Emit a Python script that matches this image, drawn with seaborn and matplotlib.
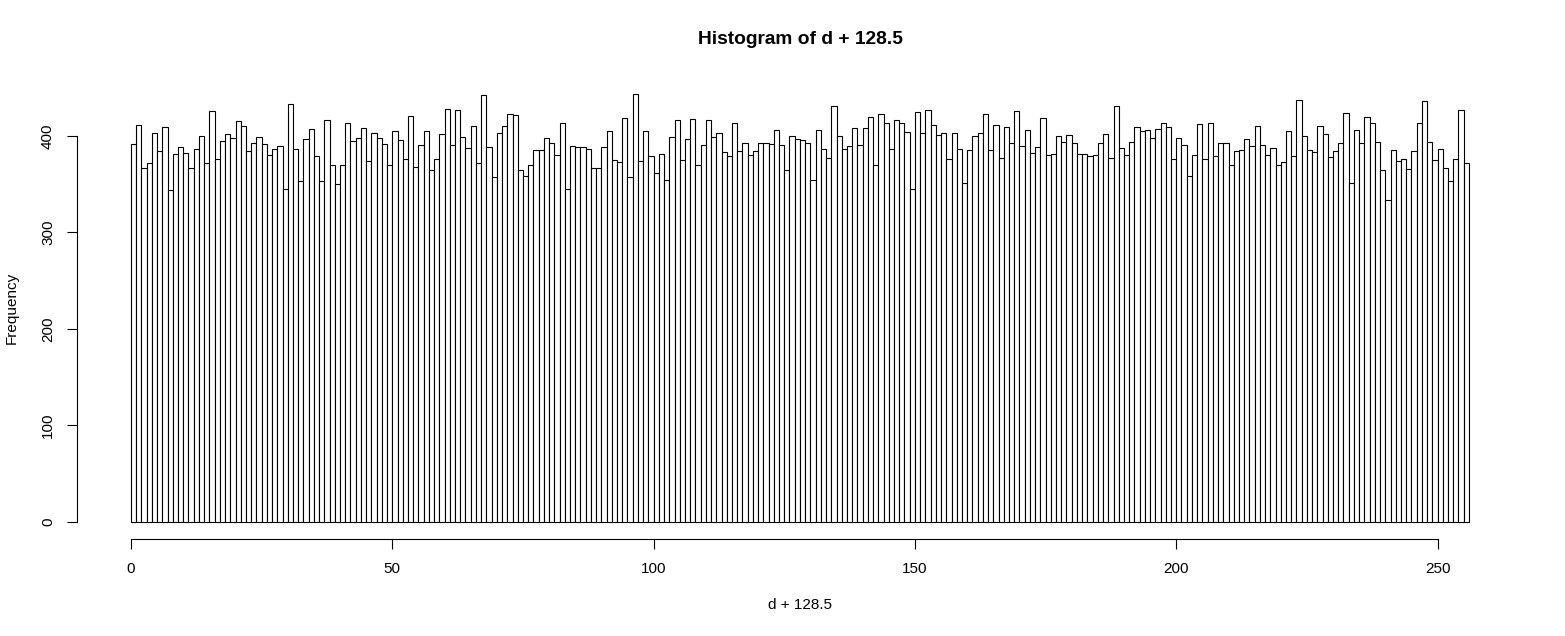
import numpy as np
import pandas as pd
import matplotlib
matplotlib.use("Agg")
import matplotlib.pyplot as plt
import seaborn as sns

# bin counts of d + 128.5, one per unit bin from 0 to 256
counts = [
    392, 411, 367, 372, 403, 384, 409, 344, 381, 389,
    382, 367, 386, 400, 372, 426, 376, 395, 402, 398,
    415, 410, 384, 393, 399, 392, 380, 387, 390, 345,
    433, 386, 353, 397, 407, 379, 353, 417, 370, 350,
    370, 413, 395, 398, 408, 374, 403, 398, 392, 370,
    405, 396, 376, 421, 368, 391, 405, 365, 376, 402,
    428, 391, 427, 399, 388, 410, 372, 442, 389, 357,
    403, 410, 423, 422, 365, 358, 370, 385, 385, 398,
    393, 380, 413, 345, 390, 389, 389, 387, 367, 367,
    389, 405, 375, 373, 419, 357, 444, 374, 405, 379,
    362, 381, 354, 399, 417, 375, 397, 418, 370, 391,
    417, 399, 403, 383, 379, 413, 384, 393, 380, 384,
    393, 393, 392, 406, 391, 365, 400, 397, 396, 393,
    354, 406, 386, 377, 431, 400, 387, 390, 408, 391,
    408, 420, 370, 423, 413, 386, 417, 413, 404, 345,
    425, 403, 427, 411, 401, 403, 376, 403, 386, 351,
    385, 400, 403, 423, 385, 411, 377, 409, 393, 426,
    390, 406, 382, 389, 419, 380, 381, 400, 394, 401,
    393, 381, 381, 379, 380, 393, 402, 377, 431, 388,
    380, 394, 409, 405, 406, 398, 407, 413, 409, 376,
    398, 391, 359, 380, 412, 376, 413, 379, 393, 393,
    370, 384, 385, 397, 390, 410, 391, 380, 388, 370,
    373, 405, 379, 437, 400, 385, 383, 410, 402, 378,
    384, 393, 424, 351, 406, 393, 420, 413, 394, 365,
    334, 385, 374, 376, 366, 384, 413, 436, 394, 375,
    387, 367, 353, 376, 427, 372,
]
x_ticks = [0, 50, 100, 150, 200, 250]
y_ticks = [0, 100, 200, 300, 400]

n_bins = len(counts)
df = pd.DataFrame({"value": np.arange(n_bins) + 0.5, "count": counts})

sns.set_style("white")
plt.rcParams["font.family"] = ["Liberation Sans", "DejaVu Sans"]
plt.rcParams["text.color"] = "black"
plt.rcParams["axes.labelcolor"] = "black"

fig = plt.figure(figsize=(15.65, 6.36), dpi=100)
ax = fig.add_axes([0.0495, 0.1525, 0.9233, 0.7274])

sns.histplot(data=df, x="value", weights="count", binwidth=1, binrange=(0, n_bins),
             color="white", edgecolor="black", linewidth=0.8, alpha=1, ax=ax)

# R style: 4% padding, axes lines only over the tick range
ax.set_xlim(-0.04 * n_bins, n_bins * 1.04)
ymax = max(counts)
ax.set_ylim(-0.04 * ymax, ymax * 1.04)

ax.set_xticks(x_ticks)
ax.set_yticks(y_ticks)
ax.set_yticklabels([str(t) for t in y_ticks], rotation=90, va="center")

for side in ["top", "right"]:
    ax.spines[side].set_visible(False)
ax.spines["left"].set_bounds(y_ticks[0], y_ticks[-1])
ax.spines["bottom"].set_bounds(x_ticks[0], x_ticks[-1])
for side in ["left", "bottom"]:
    ax.spines[side].set_linewidth(0.8)
    ax.spines[side].set_color("black")

ax.tick_params(axis="both", direction="out", length=7.2, width=0.8,
               colors="black", labelsize=11, pad=9, left=True, bottom=True)

ax.set_title("Histogram of d + 128.5", fontsize=13.8, fontweight="bold", pad=23,
             color="black")
ax.set_xlabel("d + 128.5", fontsize=11, labelpad=16)
ax.set_ylabel("Frequency", fontsize=11, labelpad=16)

plt.savefig("out.png", dpi=100)
